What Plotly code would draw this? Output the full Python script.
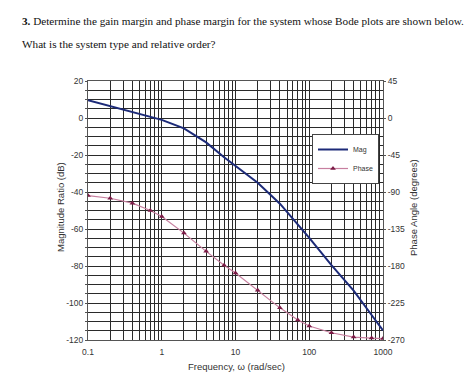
import plotly.graph_objects as go

# ---- data ----
freq = [0.1, 0.2, 0.4, 0.7, 1, 2, 4, 7, 10, 20, 40, 70, 100, 200, 400, 700, 1000]
mag_db = [9.6, 6.4, 3.1, 0.7, -1.0, -5.6, -13.2, -21.2, -25.8, -35.0, -46.3, -57.6, -64.8, -79.5, -93.3, -106.5, -114.8]
phase_deg = [-94.3, -97.6, -103.6, -112.5, -119.8, -140.0, -162.2, -179.1, -188.5, -209.4, -230.9,
             -245.8, -253.0, -261.2, -266.4, -267.6, -268.3]
x_tick_labels = ["0.1", "1", "10", "100", "1000"]
mag_ticks = [20, 0, -20, -40, -60, -80, -100, -120]
phase_ticks = [45, 0, -45, -90, -135, -180, -225, -270]

OFF = 8  # page body margin
W, H = 474 - OFF, 376 - OFF
L, R, T, B = 88 - OFF, 383 - OFF, 81 - OFF, 340 - OFF

def px(xp):
    return (xp - OFF - L) / (R - L)

def py(yp):
    return 1 - (yp - OFF - T) / (B - T)

# x ticks: every 1..9 per decade for gridlines, labels only at decades
xvals, xtext = [], []
for d in range(-1, 3):
    for k in range(1, 10):
        v = k * 10 ** d
        xvals.append(v)
        xtext.append(x_tick_labels[d + 1] if k == 1 else "")
xvals.append(1000)
xtext.append(x_tick_labels[-1])

yvals = list(range(20, -125, -5))
ytext = [str(v) if v in mag_ticks else "" for v in yvals]

fig = go.Figure()
fig.add_trace(go.Scatter(x=freq, y=mag_db, name="Mag", mode="lines",
                         line=dict(color="#1c2a78", width=2)))
fig.add_trace(go.Scatter(x=freq, y=phase_deg, name="Phase", mode="lines+markers", yaxis="y2",
                         line=dict(color="#c77f9f", width=1.2),
                         marker=dict(symbol="triangle-up", size=5, color="#7a1a45")))

sans = "Liberation Sans, Arial, sans-serif"
tickfont = dict(family=sans, size=8.5, color="#333333")
titlefont = dict(family=sans, size=9.5, color="#333333")
fig.update_layout(
    width=W, height=H,
    margin=dict(l=L, r=W - R, t=T, b=H - B),
    paper_bgcolor="white", plot_bgcolor="white",
    showlegend=True,
    legend=dict(x=px(312), y=py(134), xanchor="left", yanchor="top",
                bgcolor="white", bordercolor="#444444", borderwidth=1,
                font=dict(family=sans, size=7, color="#333333"),
                tracegroupgap=0, itemwidth=30),
    xaxis=dict(type="log", range=[-1, 3], tickvals=xvals, ticktext=xtext,
               showgrid=True, gridcolor="#2a2a2a", gridwidth=1,
               showline=True, linecolor="#555555", linewidth=1, mirror=True,
               ticks="", tickfont=tickfont, zeroline=False, ticklabelstandoff=4),
    yaxis=dict(range=[-120, 20], tickvals=yvals, ticktext=ytext,
               showgrid=True, gridcolor="#2a2a2a", gridwidth=1,
               showline=True, linecolor="#555555", linewidth=1,
               ticks="outside", ticklen=2, tickcolor="#555555", tickfont=tickfont, zeroline=False),
    yaxis2=dict(range=[-270, 45], overlaying="y", side="right",
                tickvals=phase_ticks, ticktext=[str(v) for v in phase_ticks],
                showgrid=False, showline=True, linecolor="#555555", linewidth=1,
                ticks="outside", ticklen=2, tickcolor="#555555", tickfont=tickfont, zeroline=False),
)

# axis titles
fig.add_annotation(text="Frequency, ω (rad/sec)", xref="paper", yref="paper",
                   x=px(236), y=py(366), xanchor="center", yanchor="middle",
                   showarrow=False, font=titlefont)
fig.add_annotation(text="Magnitude Ratio (dB)", xref="paper", yref="paper", textangle=-90,
                   x=px(60), y=py(207), xanchor="center", yanchor="middle",
                   showarrow=False, font=titlefont)
fig.add_annotation(text="Phase Angle (degrees)", xref="paper", yref="paper", textangle=-90,
                   x=px(413), y=py(208), xanchor="center", yanchor="middle",
                   showarrow=False, font=titlefont)

serif = dict(family="Liberation Serif, Times New Roman, serif", size=11.2, color="#111111")
fig.add_annotation(text="<b>3.</b> Determine the gain margin and phase margin for the system whose Bode plots are shown below.",
                   xref="paper", yref="paper", x=px(20), y=py(21), xanchor="left", yanchor="middle",
                   showarrow=False, font=serif)
fig.add_annotation(text="What is the system type and relative order?",
                   xref="paper", yref="paper", x=px(20), y=py(44), xanchor="left", yanchor="middle",
                   showarrow=False, font=serif)

fig.write_html("out.html")
